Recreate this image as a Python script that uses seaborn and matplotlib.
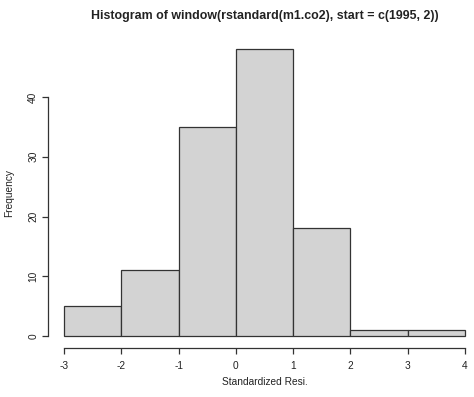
import numpy as np
import pandas as pd
import matplotlib
matplotlib.use("Agg")
import matplotlib.pyplot as plt
import seaborn as sns

# ================================
# DATA
# ================================
bin_edges = [-3, -2, -1, 0, 1, 2, 3, 4]
counts = [5, 11, 35, 48, 18, 1, 1]
x_ticks = [-3, -2, -1, 0, 1, 2, 3, 4]
y_ticks = [0, 10, 20, 30, 40]

title = "Histogram of window(rstandard(m1.co2), start = c(1995, 2))"
x_label = "Standardized Resi."
y_label = "Frequency"

# ================================
# PLOT
# ================================
sns.set_style("white")
plt.rcParams["font.family"] = ["Liberation Sans", "DejaVu Sans"]

W, H = 474, 397
fig = plt.figure(figsize=(W / 100, H / 100), dpi=100)

# plot region in pixels (R-like layout)
left_px, right_px = 48, 481
top_px, bottom_px = 37.7, 347.5
ax = fig.add_axes([left_px / W, (H - bottom_px) / H,
                   (right_px - left_px) / W, (bottom_px - top_px) / H])

centers = [(a + b) / 2 for a, b in zip(bin_edges[:-1], bin_edges[1:])]
df = pd.DataFrame({"resid": centers, "n": counts})

sns.histplot(data=df, x="resid", weights="n", bins=bin_edges, ax=ax,
             color="#d3d3d3", edgecolor="#333333", linewidth=0.9, alpha=1)

ax.set_xlim(-3.28, 4.28)
ax.set_ylim(-1.92, 49.92)

for s in ["top", "right"]:
    ax.spines[s].set_visible(False)
ax.spines["left"].set_bounds(0, 40)
ax.spines["bottom"].set_bounds(-3, 4)
for s in ["left", "bottom"]:
    ax.spines[s].set_color("#333333")
    ax.spines[s].set_linewidth(0.9)

ax.set_xticks(x_ticks)
ax.set_xticklabels([str(v) for v in x_ticks])
ax.set_yticks(y_ticks)
ax.set_yticklabels([str(v) for v in y_ticks], rotation=90, va="center")
ax.tick_params(axis="both", direction="out", length=4, width=0.9,
               color="#333333", labelsize=7.3, labelcolor="#222222",
               bottom=True, left=True)
ax.tick_params(axis="x", pad=6)
ax.tick_params(axis="y", pad=3)

ax.set_xlabel("")
ax.set_ylabel("")
fig.text((left_px + right_px) / 2 / W, 1 - 382 / H, x_label,
         ha="center", va="center", fontsize=7.3, color="#222222")
fig.text(9 / W, 1 - 193 / H, y_label, rotation=90, ha="center", va="center",
         fontsize=7.3, color="#222222")

fig.text((left_px + right_px) / 2 / W, 1 - 16 / H, title,
         ha="center", va="center", fontsize=8.9, fontweight="bold",
         color="#222222")

fig.savefig("out.png", dpi=100)
